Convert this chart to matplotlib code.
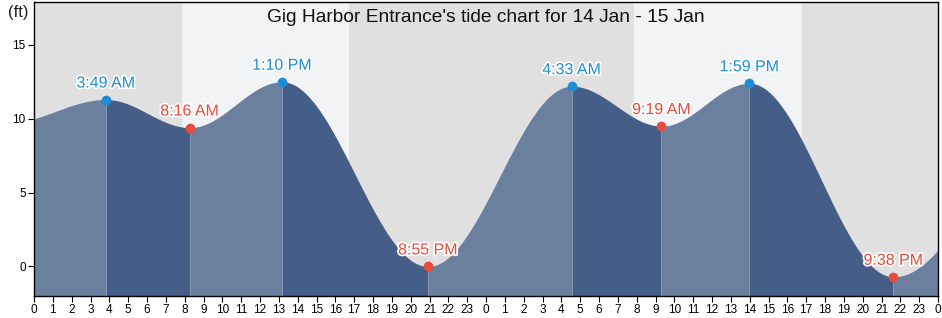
import numpy as np
import matplotlib
matplotlib.use("Agg")
import matplotlib.pyplot as plt
import matplotlib.patheffects as pe

plt.rcParams['font.family'] = ['Liberation Sans', 'DejaVu Sans']

# Data
ext_hours = [3 + 49/60, 8 + 16/60, 13 + 10/60, 20 + 55/60,
             24 + 4 + 33/60, 24 + 9 + 19/60, 24 + 13 + 59/60, 24 + 21 + 38/60]
ext_heights = [11.3, 9.4, 12.5, 0.0, 12.2, 9.5, 12.4, -0.7]
ext_labels = ["3:49 AM", "8:16 AM", "1:10 PM", "8:55 PM",
              "4:33 AM", "9:19 AM", "1:59 PM", "9:38 PM"]
ext_is_high = [True, False, True, False, True, False, True, False]
# off-chart neighbouring extremes (estimated) to shape the curve edges
prev_ext = (-1.5, 9.7)
next_ext = (54.8, 11.0)
day_bands = [(7.86, 16.75), (31.86, 40.78)]
tick_labels = [str(h) for h in range(24)] + [str(h) for h in range(24)] + ["0"]

t_all = [prev_ext[0]] + ext_hours + [next_ext[0]]
h_all = [prev_ext[1]] + ext_heights + [next_ext[1]]

def tide(t):
    t = np.asarray(t, dtype=float)
    out = np.empty_like(t)
    for i in range(len(t_all) - 1):
        a, b = t_all[i], t_all[i + 1]
        m = (t >= a) & (t <= b)
        f = (t[m] - a) / (b - a)
        w = (1 - np.cos(np.pi * f)) / 2
        out[m] = h_all[i] + (h_all[i + 1] - h_all[i]) * w
    return out

fig = plt.figure(figsize=(9.42, 3.18), dpi=100)
ax = fig.add_axes([34/942, 22/318, 904/942, 294/318])
ymin, ymax = -2.0, 17.9
ax.set_xlim(0, 48)
ax.set_ylim(ymin, ymax)

night = "#e0e0e0"
day = "#f2f3f5"
ax.axvspan(0, 48, color=night, zorder=0, lw=0)
for a, b in day_bands:
    ax.axvspan(a, b, color=day, zorder=0.5, lw=0)

light = "#6b7f9f"
dark = "#455e87"
bounds = [0] + ext_hours + [48]
for i in range(len(bounds) - 1):
    a, b = bounds[i], bounds[i + 1]
    ts = np.linspace(a, b, 200)
    ys = tide(ts)
    rising = ys[-1] > ys[0]
    ax.fill_between(ts, ymin, ys, color=light if rising else dark, lw=0, zorder=1)

for t, h in zip(ext_hours, ext_heights):
    ax.plot([t, t], [ymin, h], color="#8294b0", lw=0.8, zorder=1.5)

blue = "#1f8dd6"
red = "#e74c3c"
for t, h, lab, hi in zip(ext_hours, ext_heights, ext_labels, ext_is_high):
    c = blue if hi else red
    ax.plot(t, h, "o", color=c, ms=7, zorder=3, mec="none")
    ax.annotate(lab, (t, h), xytext=(0, 6.5), textcoords="offset points",
                ha="center", va="bottom", color=c, fontsize=11.5, zorder=4,
                path_effects=[pe.withStroke(linewidth=2.5, foreground="white")])

ax.set_yticks([0, 5, 10, 15])
ax.set_xticks(range(49))
ax.set_xticklabels(tick_labels)
ax.tick_params(axis="x", labelsize=8.5, length=4, pad=2)
ax.tick_params(axis="y", labelsize=8.5, length=4, pad=2)
for s in ax.spines.values():
    s.set_color("black")
    s.set_linewidth(1)

fig.text(486/942, 1 - 18/318, "Gig Harbor Entrance's tide chart for 14 Jan - 15 Jan",
         ha="center", va="center", fontsize=13.8, color="#111111")
fig.text(8/942, 1 - 13/318, "(ft)", ha="left", va="center", fontsize=12, color="#222222")

fig.savefig("out.png", dpi=100)
